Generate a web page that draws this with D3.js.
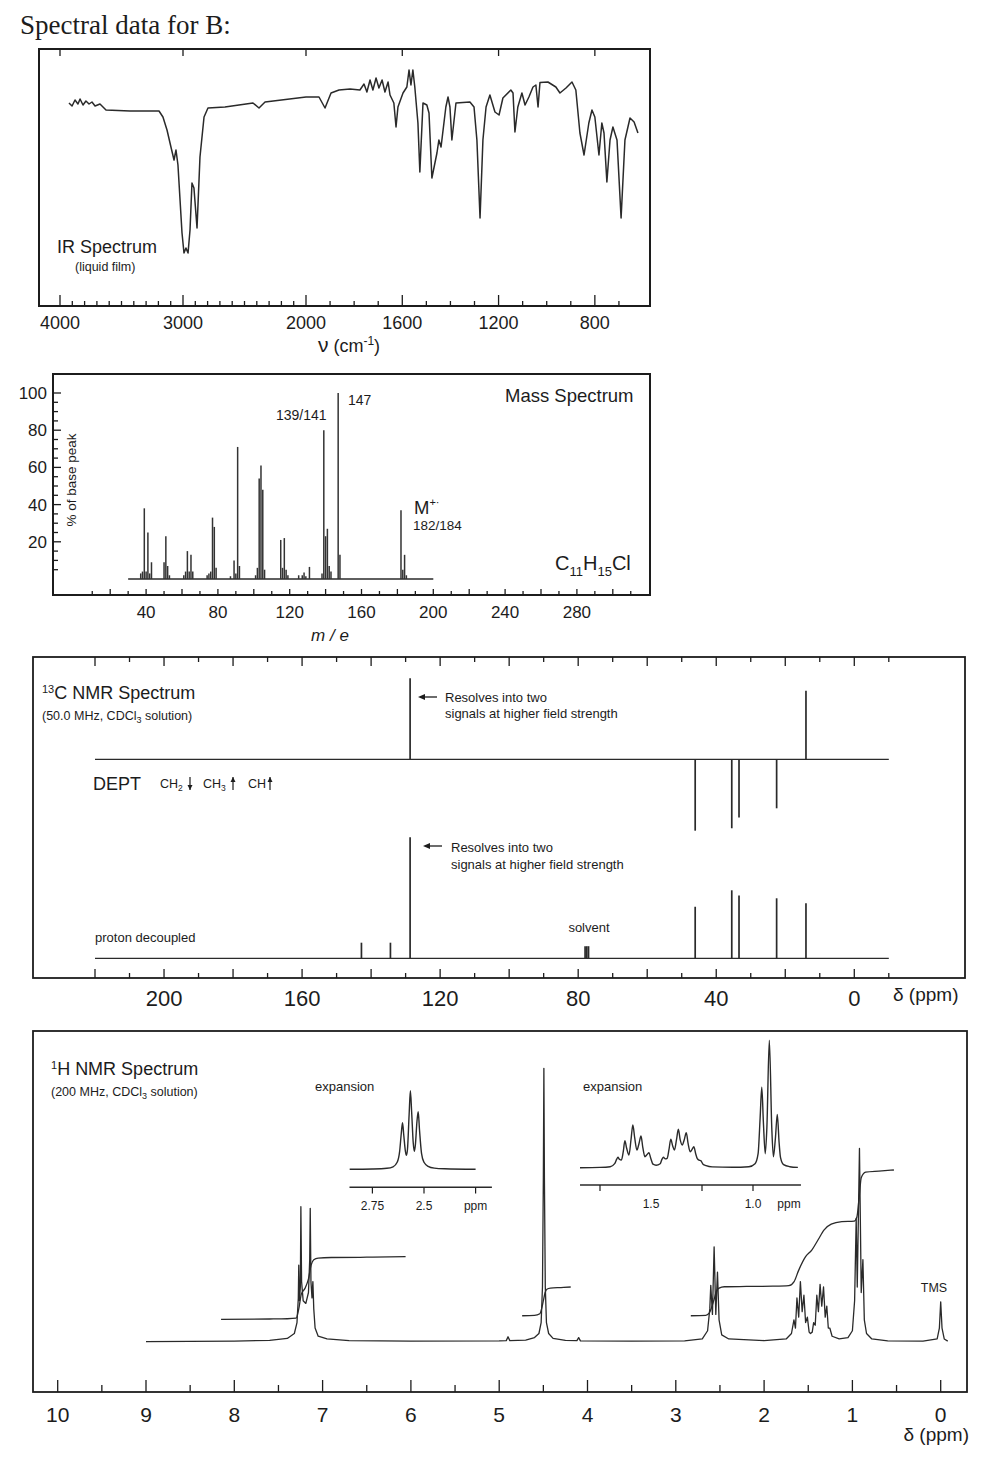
<!DOCTYPE html>
<html><head><meta charset="utf-8">
<script src="https://cdn.jsdelivr.net/npm/d3@7"></script>
<style>
body{margin:0;background:#fff}
svg text{font-family:"Liberation Sans",Arial,Helvetica,sans-serif;fill:#1c1c1c}
</style></head>
<body><svg id="c" width="988" height="1460"></svg>
<script>
// ---------------- DATA ----------------
// IR spectrum (wavenumber cm-1, % transmittance)
const irWavenumbers = [3927,3902,3878,3854,3837,3813,3789,3764,3740,3715,3675,3626,3431,3195,3163,3130,3098,3073,3057,3041,3008,2992,2976,2959,2943,2927,2911,2886,2862,2829,2797,2659,2431,2382,2333,2000,1946,1921,1896,1863,1817,1776,1759,1747,1734,1722,1709,1697,1684,1672,1659,1651,1635,1626,1618,1597,1581,1572,1564,1556,1548,1535,1527,1514,1498,1489,1477,1456,1448,1439,1419,1410,1402,1394,1377,1319,1302,1290,1277,1265,1252,1236,1215,1198,1182,1149,1140,1132,1120,1103,1090,1074,1057,1045,1036,1028,995,962,945,920,895,879,862,845,825,812,800,783,771,762,750,737,725,708,691,675,654,637,621];
const irTransmittance = [78.8,77.6,80,78.4,80.4,78,79.6,78.4,79.2,77.6,78.4,76,75.6,75.6,73.2,68,61.2,56,60,54,26.8,18.8,20.8,18.8,28,46.8,44.8,28.8,57.2,73.2,76.8,77.2,78.8,76.8,79.2,81.2,81.2,76.8,82.8,84,84.4,84,86.4,83.2,88,84,88.8,84.8,88,83.2,87.2,82,78.8,69.2,77.2,82.8,85.2,92,86,92,85.2,70.8,51.2,78.8,78,74.8,48.8,58.8,64,61.2,77.2,81.2,77.2,64,78.8,79.2,77.2,64,32.8,64,77.2,82,75.2,74,80.8,84,82.8,67.2,77.2,82.8,78,81.2,85.2,86,77.2,87,87.2,85.2,82.8,84.8,87.2,84,66.8,58,70.8,76,73.2,58,70.8,66.8,47.2,64,69.2,64,32.8,64,72.8,71.2,66.8];
const irTickLabels = [4000,3000,2000,1600,1200,800];

// Mass spectrum (m/e, % of base peak)
const msMasses = [37,38,39,40,41,42,43,50,51,52,53,61,62,63,64,65,66,74,75,76,77,78,79,87,89,90,91,92,101,102,103,104,105,106,115,116,117,118,119,125,127,128,129,131,138,139,140,141,142,143,147,148,182,183,184,185];
const msIntensities = [3,4,38,4,25,3,9,9,23,7,2,2,4,15,4,13,4,2,3,4,33,28,6,1.5,10,3,71,7,2,6,54,61,48,5,21,6,22,5,2,2,2,3.5,1.5,6.5,3,80,23,27,7,4,100,13,37,5,13,2];
const msXTickLabels = [40,80,120,160,200,240,280];
const msYTickLabels = [20,40,60,80,100];

// 13C NMR (ppm, relative intensity; negative = inverted DEPT signal)
const deptShifts = [128.7,46.1,35.5,33.4,22.5,14.0];
const deptIntensities = [67,-59,-57,-48,-40.5,56.7];
const decoupledShifts = [142.8,134.4,128.7,78.0,77.5,77.0,46.1,35.5,33.4,22.5,14.0];
const decoupledIntensities = [12.9,12.9,100,10,10,10,42.6,56.2,52,49.6,45.5];
const c13TickLabels = [200,160,120,80,40,0];

// 1H NMR main trace (ppm, relative intensity)
const h1Shifts = [9.0,8.0,7.6,7.40,7.32,7.29,7.275,7.27,7.262,7.252,7.246,7.238,7.22,7.19,7.16,7.146,7.14,7.132,7.12,7.11,7.10,7.085,7.05,6.95,6.7,6.0,5.0,4.92,4.90,4.88,4.70,4.60,4.55,4.525,4.51,4.50,4.494,4.488,4.478,4.465,4.44,4.39,4.25,4.12,4.10,4.08,3.5,2.9,2.70,2.64,2.615,2.604,2.585,2.566,2.547,2.528,2.51,2.48,2.40,2.0,1.75,1.69,1.662,1.645,1.628,1.608,1.589,1.569,1.549,1.53,1.51,1.49,1.475,1.455,1.439,1.421,1.403,1.385,1.366,1.347,1.327,1.308,1.29,1.273,1.256,1.23,1.15,1.05,1.0,0.975,0.957,0.945,0.92,0.90,0.881,0.865,0.84,0.78,0.6,0.2,0.04,0.015,0.0,-0.015,-0.04,-0.08];
const h1Intensities = [0,0.2,0.5,1.2,3,7,16,28,15,20,49.4,22,15,14,18,30,48.8,22,16,22,12,5,2,1,0.4,0.2,0.3,0.4,1.8,0.4,0.6,1.5,3,7,20,60,100,60,20,7,3,1.2,0.5,0.4,1.5,0.3,0.2,0.3,1,4,12,20.6,10,34.7,10,25.4,8,2.5,1,0.4,1,3,8,5,16,9,22,11,17,7,9,3.5,3,3.5,7,6,17,11,21,13,20,9,13,5,5,2,1,1.5,4,15,45,20,70.7,18,30,8,3,1,0.3,0.2,1,5,14.6,5,1,0.2];
// integral curve segments (ppm, integral height)
const int1Shifts = [8.15,7.6,7.40,7.30,7.27,7.24,7.20,7.16,7.13,7.10,7.05,6.9,6.5,6.06];
const int1Values = [8.2,8.3,8.4,8.6,12,17.5,19.5,23,28,30,30.6,30.8,30.9,31.1];
const int2Shifts = [4.74,4.60,4.54,4.52,4.50,4.48,4.46,4.42,4.30,4.19];
const int2Values = [9.5,9.6,10.2,12,15,18,19.2,19.6,19.8,20];
const int3Shifts = [2.83,2.66,2.62,2.59,2.566,2.54,2.51,2.45,2.2,1.9,1.72,1.66,1.61,1.53,1.46,1.39,1.32,1.24,1.12,0.98,0.95,0.92,0.90,0.85,0.70,0.53];
const int3Values = [9.5,9.6,10.5,13,15.5,18.5,19.6,20.1,20.2,20.3,20.5,22,26,31.1,33.5,37.2,40.9,43,43.9,44.1,45.5,54,60,62,62.4,62.8];
const h1TickLabels = [10,9,8,7,6,5,4,3,2,1,0];
// expansions
const exp1Shifts = [2.86,2.75,2.68,2.65,2.63,2.618,2.610,2.604,2.598,2.590,2.585,2.580,2.572,2.566,2.560,2.552,2.547,2.542,2.534,2.528,2.522,2.512,2.50,2.48,2.45,2.40,2.25];
const exp1Intensities = [0,0.3,1,2.5,7,18,36,46.6,34,18,14,20,55,78.6,58,26,18,24,48,57.6,40,16,7,3,1.2,0.5,0];
const exp2Shifts = [1.848,1.75,1.70,1.678,1.668,1.662,1.655,1.645,1.636,1.628,1.620,1.608,1.598,1.589,1.580,1.569,1.559,1.549,1.540,1.53,1.518,1.51,1.502,1.49,1.475,1.455,1.446,1.439,1.43,1.421,1.412,1.403,1.394,1.385,1.375,1.366,1.357,1.347,1.337,1.327,1.318,1.308,1.298,1.29,1.281,1.273,1.264,1.256,1.245,1.23,1.20,1.10,1.02,0.99,0.975,0.965,0.957,0.949,0.94,0.932,0.92,0.908,0.90,0.89,0.881,0.872,0.865,0.85,0.82,0.78];
const exp2Intensities = [0,0.3,1,4,8.5,10.4,8.5,7.7,16,27,20,12.7,28,42.7,30,17.7,24,31.7,20,11,13.5,15,10,3.5,2.5,4,8.5,10.4,8.8,9.3,18,28.4,22,17.7,28,38.4,28,22.7,28,35,24,16,18.5,21,14,9,7.5,7,3.5,2,0.8,0.5,1,4,14,50,80.4,45,14,40,127.6,40,11,30,53.3,25,10,3,1,0.3];
const exp1TickValues = [2.75,2.5,2.25];
const exp1TickLabels = ["2.75","2.5","ppm"];
const exp2TickValues = [1.75,1.25,1.0];
const exp2LabelValues = [1.5,1.0];

// ---------------- DRAWING ----------------
const svg = d3.select("#c");
const INK = "#1c1c1c", TRACE = "#2a2a2a";

function txt(x, y, s, size, anchor) {
  const t = svg.append("text").attr("x", x).attr("y", y).style("font-size", size + "px").text(s);
  if (anchor) t.attr("text-anchor", anchor);
  return t;
}
function rich(x, y, parts, anchor) {
  const t = svg.append("text").attr("x", x).attr("y", y);
  if (anchor) t.attr("text-anchor", anchor);
  parts.forEach(p => {
    const s = t.append("tspan").attr("dy", p[2] || 0).style("font-size", p[1] + "px").text(p[0]);
    if (p[3]) s.style("font-weight", "bold");
  });
  return t;
}
function box(x, y, w, h, sw) {
  svg.append("rect").attr("x", x).attr("y", y).attr("width", w).attr("height", h)
    .attr("fill", "none").attr("stroke", INK).attr("stroke-width", sw);
}
function vline(x, y1, y2, sw, col) {
  svg.append("line").attr("x1", x).attr("x2", x).attr("y1", y1).attr("y2", y2)
    .attr("stroke", col || INK).attr("stroke-width", sw || 1.2);
}
function arrowLeft(xTip, xTail, y) {
  svg.append("line").attr("x1", xTip + 5).attr("x2", xTail).attr("y1", y).attr("y2", y).attr("stroke", INK).attr("stroke-width", 1.3);
  svg.append("path").attr("d", `M${xTip},${y} L${xTip + 7},${y - 3} L${xTip + 7},${y + 3} Z`).attr("fill", INK);
}
function vArrow(x, yTop, yBot, down) {
  svg.append("line").attr("x1", x).attr("x2", x).attr("y1", yTop).attr("y2", yBot).attr("stroke", INK).attr("stroke-width", 1.2);
  const tip = down ? yBot : yTop, s = down ? -1 : 1;
  svg.append("path").attr("d", `M${x},${tip} L${x - 2.5},${tip + s * 5} L${x + 2.5},${tip + s * 5} Z`).attr("fill", INK);
}

// Title
txt(20, 34, "Spectral data for B:", 27).style("font-family", "'Liberation Serif','Times New Roman',serif");

// ===== IR =====
const irX = d3.scaleLinear().domain([4000, 2000, 600]).range([60, 306, 643]);
const irY = d3.scaleLinear().domain([0, 100]).range([300, 50]);
box(39, 49, 611, 257, 2);
d3.range(4000, 650, -100).forEach(w => {
  const major = irTickLabels.includes(w);
  vline(irX(w), 306, 306 - (major ? 11 : 5), 1.3);
});
irTickLabels.forEach(w => { vline(irX(w), 49, 56, 1.3); });
svg.append("g").selectAll("text").data(irTickLabels).join("text")
  .attr("x", d => irX(d)).attr("y", 329).attr("text-anchor", "middle").style("font-size", "18px").text(d => d);
rich(349, 352, [["ν", 21], [" (cm", 18], ["-1", 12, -7], [")", 18, 7]], "middle");
svg.append("path").datum(d3.zip(irWavenumbers, irTransmittance))
  .attr("fill", "none").attr("stroke", TRACE).attr("stroke-width", 1.5).attr("stroke-linejoin", "round")
  .attr("d", d3.line().x(d => irX(d[0])).y(d => irY(d[1])));
txt(57, 253, "IR Spectrum", 18);
txt(75, 271, "(liquid film)", 12.5);

// ===== Mass spectrum =====
const msX = d3.scaleLinear().domain([0, 320]).range([74.3, 74.3 + 320 * 1.795]);
const msY = d3.scaleLinear().domain([0, 100]).range([579, 393]);
box(53, 374, 597, 221, 2);
d3.range(5, 101, 5).forEach(v => {
  svg.append("line").attr("x1", 53).attr("x2", 53 + (v % 20 === 0 ? 8 : 5)).attr("y1", msY(v)).attr("y2", msY(v)).attr("stroke", INK).attr("stroke-width", 1.3);
});
svg.append("g").selectAll("text").data(msYTickLabels).join("text")
  .attr("x", 47).attr("y", d => msY(d) + 6).attr("text-anchor", "end").style("font-size", "17px").text(d => d);
d3.range(10, 320, 10).forEach(m => vline(msX(m), 595, 595 - (m % 20 === 0 ? 6 : 4), 1.3));
svg.append("g").selectAll("text").data(msXTickLabels).join("text")
  .attr("x", d => msX(d)).attr("y", 618).attr("text-anchor", "middle").style("font-size", "17px").text(d => d);
txt(330, 641, "m / e", 17, "middle").style("font-style", "italic");
txt(72, 480, "% of base peak", 13.5, "middle").attr("transform", "rotate(-90,72,480)").attr("dy", 4);
svg.append("line").attr("x1", msX(30)).attr("x2", msX(200)).attr("y1", msY(0)).attr("y2", msY(0)).attr("stroke", TRACE).attr("stroke-width", 1.3);
svg.append("g").selectAll("line").data(d3.zip(msMasses, msIntensities)).join("line")
  .attr("x1", d => msX(d[0])).attr("x2", d => msX(d[0])).attr("y1", msY(0)).attr("y2", d => msY(d[1]))
  .attr("stroke", "#333").attr("stroke-width", 1.5);
txt(505, 402, "Mass Spectrum", 18.5);
txt(348, 405, "147", 14);
txt(276, 420, "139/141", 14);
rich(414, 514, [["M", 18.5], ["+·", 11, -8]]);
txt(413, 530, "182/184", 13.5);
rich(555, 570, [["C", 20], ["11", 13, 6], ["H", 20, -6], ["15", 13, 6], ["Cl", 20, -6]]);

// ===== 13C NMR =====
const cX = d3.scaleLinear().domain([220, -10]).range([95, 888.8]);
const cI = d3.scaleLinear().domain([0, 100]).range([0, 121]);
const deptBase = 759.3, pdBase = 958.3;
box(33, 657, 932, 321, 1.8);
d3.range(220, -11, -10).forEach(d => {
  const major = d % 20 === 0;
  vline(cX(d), 657, 657 + (major ? 9 : 5), 1.3);
  vline(cX(d), 978, 978 - (major ? 9 : 5), 1.3);
});
svg.append("g").selectAll("text").data(c13TickLabels).join("text")
  .attr("x", d => cX(d)).attr("y", 1006).attr("text-anchor", "middle").style("font-size", "22px").text(d => d);
txt(893, 1001, "δ (ppm)", 19);
[deptBase, pdBase].forEach(b => svg.append("line").attr("x1", cX(220)).attr("x2", cX(-10)).attr("y1", b).attr("y2", b).attr("stroke", TRACE).attr("stroke-width", 1.3));
svg.append("g").selectAll("line").data(d3.zip(deptShifts, deptIntensities)).join("line")
  .attr("x1", d => cX(d[0])).attr("x2", d => cX(d[0])).attr("y1", deptBase).attr("y2", d => deptBase - cI(d[1]))
  .attr("stroke", TRACE).attr("stroke-width", 1.7);
svg.append("g").selectAll("line").data(d3.zip(decoupledShifts, decoupledIntensities)).join("line")
  .attr("x1", d => cX(d[0])).attr("x2", d => cX(d[0])).attr("y1", pdBase).attr("y2", d => pdBase - cI(d[1]))
  .attr("stroke", TRACE).attr("stroke-width", 1.7);
rich(42, 699, [["13", 11, -6], ["C NMR Spectrum", 18, 6]]);
rich(42, 720, [["(50.0 MHz, CDCl", 12.5], ["3", 9, 3], [" solution)", 12.5, -3]]);
arrowLeft(418, 437, 697);
txt(445, 702, "Resolves into two", 13);
txt(445, 718, "signals at higher field  strength", 13);
arrowLeft(423, 442, 846);
txt(451, 852, "Resolves into two", 13);
txt(451, 869, "signals at higher field  strength", 13);
txt(93, 790, "DEPT", 18);
rich(160, 788, [["CH", 12.5], ["2", 8.5, 3]]);
vArrow(190, 777, 790, true);
rich(203, 788, [["CH", 12.5], ["3", 8.5, 3]]);
vArrow(233, 777, 790, false);
txt(248, 788, "CH", 12.5);
vArrow(270, 777, 790, false);
txt(95, 942, "proton decoupled", 13);
txt(589, 932, "solvent", 13, "middle");

// ===== 1H NMR =====
const hX = d3.scaleLinear().domain([10, 0]).range([57.7, 940.7]);
const hY = d3.scaleLinear().domain([0, 100]).range([1341.7, 1068.3]);
const hInt = d3.scaleLinear().domain([0, 100]).range([1341.7, 1068.3]);
box(33, 1031, 934, 361, 1.8);
d3.range(0, 20.5, 1).forEach(k => {
  const d = k / 2, major = k % 2 === 0;
  vline(hX(d), 1392, 1392 - (major ? 12 : 7), 1.3);
});
svg.append("g").selectAll("text").data(h1TickLabels).join("text")
  .attr("x", d => hX(d)).attr("y", 1422).attr("text-anchor", "middle").style("font-size", "21px").text(d => d);
txt(969, 1441, "δ (ppm)", 19, "end");
const hLine = d3.line().x(d => hX(d[0])).y(d => hY(d[1]));
svg.append("path").datum(d3.zip(h1Shifts, h1Intensities)).attr("fill", "none").attr("stroke", TRACE)
  .attr("stroke-width", 1.3).attr("stroke-linejoin", "round").attr("d", hLine);
const iLine = d3.line().x(d => hX(d[0])).y(d => hInt(d[1])).curve(d3.curveMonotoneX);
[[int1Shifts, int1Values], [int2Shifts, int2Values], [int3Shifts, int3Values]].forEach(s => {
  svg.append("path").datum(d3.zip(s[0], s[1])).attr("fill", "none").attr("stroke", TRACE)
    .attr("stroke-width", 1.3).attr("d", iLine);
});
rich(51, 1075, [["1", 11, -6], ["H NMR Spectrum", 18, 6]]);
rich(51, 1096, [["(200 MHz, CDCl", 12.5], ["3", 9, 3], [" solution)", 12.5, -3]]);
txt(934, 1292, "TMS", 12.5, "middle");

// expansion 1
const e1X = d3.scaleLinear().domain([2.5, 2.25]).range([424, 475.6]);
const e1Y = d3.scaleLinear().domain([0, 100]).range([1169.3, 1069.3]);
txt(315, 1091, "expansion", 13);
svg.append("path").datum(d3.zip(exp1Shifts, exp1Intensities)).attr("fill", "none").attr("stroke", TRACE)
  .attr("stroke-width", 1.4).attr("d", d3.line().x(d => e1X(d[0])).y(d => e1Y(d[1])).curve(d3.curveMonotoneX));
svg.append("line").attr("x1", e1X(2.861)).attr("x2", e1X(2.171)).attr("y1", 1187.3).attr("y2", 1187.3).attr("stroke", TRACE).attr("stroke-width", 1.6);
exp1TickValues.forEach(v => vline(e1X(v), 1187.3, 1193.5, 1.2));
svg.append("g").selectAll("text").data(d3.zip(exp1TickValues, exp1TickLabels)).join("text")
  .attr("x", d => e1X(d[0])).attr("y", 1210).attr("text-anchor", "middle").style("font-size", "12px").text(d => d[1]);

// expansion 2
const e2X = d3.scaleLinear().domain([1.5, 1.0]).range([651, 753]);
const e2Y = d3.scaleLinear().domain([0, 100]).range([1167.7, 1067.7]);
txt(583, 1091, "expansion", 13);
svg.append("path").datum(d3.zip(exp2Shifts, exp2Intensities)).attr("fill", "none").attr("stroke", TRACE)
  .attr("stroke-width", 1.4).attr("d", d3.line().x(d => e2X(d[0])).y(d => e2Y(d[1])).curve(d3.curveMonotoneX));
svg.append("line").attr("x1", e2X(1.848)).attr("x2", e2X(0.765)).attr("y1", 1185).attr("y2", 1185).attr("stroke", TRACE).attr("stroke-width", 1.6);
exp2TickValues.forEach(v => vline(e2X(v), 1185, 1191, 1.2));
svg.append("g").selectAll("text").data(exp2LabelValues).join("text")
  .attr("x", d => e2X(d)).attr("y", 1208).attr("text-anchor", "middle").style("font-size", "12px").text(d => d.toFixed(1));
txt(789, 1208, "ppm", 12, "middle");
</script></body></html>
